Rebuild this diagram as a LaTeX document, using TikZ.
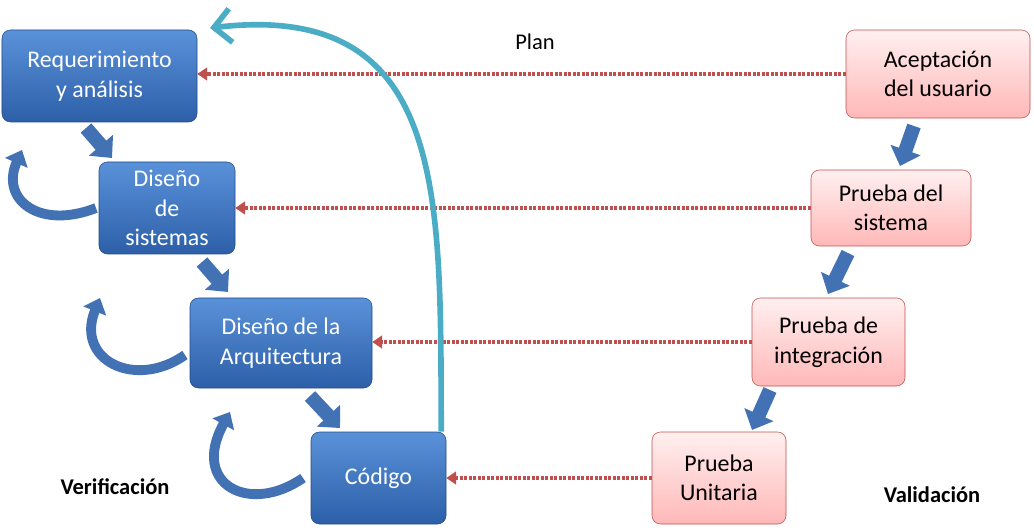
\documentclass[tikz,border=0pt]{standalone}
\usepackage{fontspec}
\setmainfont{Carlito}
\usetikzlibrary{arrows.meta,shapes.arrows}
\definecolor{btop}{HTML}{5A92DA}
\definecolor{bbot}{HTML}{2C5FA8}
\definecolor{barr}{HTML}{4372B4}
\definecolor{teal2}{HTML}{4BACC6}
\definecolor{redd}{HTML}{C0504D}
\begin{document}
\begin{tikzpicture}[x=0.025cm,y=-0.025cm,
 bbox/.style={draw=bbot!80!black,rounded corners=6pt,top color=btop,bottom color=bbot,text=white,font=\fontsize{17}{21}\selectfont,align=center,inner sep=0pt},
 pbox/.style={draw=redd,rounded corners=6pt,top color=red!6,bottom color=red!28,text=black,font=\fontsize{17}{21}\selectfont,align=center,inner sep=0pt},
 dots/.style={densely dotted,line width=2.2pt,draw=redd,-{Triangle[length=7pt,width=9pt]}},
 blk/.style={line width=10pt,draw=barr,-{Triangle[length=12pt,width=22pt]}},
 crv/.style={line width=7pt,draw=barr,-{Triangle[length=10pt,width=17pt]}}]
\useasboundingbox (0,0) rectangle (1034,531);
\node[bbox,minimum width=195*0.025cm,minimum height=92*0.025cm] (r) at (99.5,76) {Requerimiento\\y análisis};
\node[bbox,minimum width=136*0.025cm,minimum height=92*0.025cm] (s) at (167,208) {Diseño\\de\\sistemas};
\node[bbox,minimum width=182*0.025cm,minimum height=90*0.025cm] (a) at (281,343) {Diseño de la\\Arquitectura};
\node[bbox,minimum width=135*0.025cm,minimum height=92*0.025cm] (c) at (378.5,478) {Código};
\node[pbox,minimum width=184*0.025cm,minimum height=88*0.025cm] (ac) at (938,74) {Aceptación\\del usuario};
\node[pbox,minimum width=160*0.025cm,minimum height=76*0.025cm] (ps) at (891,208) {Prueba del\\sistema};
\node[pbox,minimum width=153*0.025cm,minimum height=88*0.025cm] (pi) at (828.5,342) {Prueba de\\integración};
\node[pbox,minimum width=134*0.025cm,minimum height=92*0.025cm] (pu) at (719,478) {Prueba\\Unitaria};
\draw[dots] (ac.west) -- (r.east|-ac.west);
\draw[dots] (ps.west) -- (s.east|-ps.west);
\draw[dots] (pi.west) -- (a.east|-pi.west);
\draw[dots] (pu.west) -- (c.east|-pu.west);
\node[font=\fontsize{16}{19}\selectfont] (plan) at (535,42) {Plan};
\node[font=\bfseries\fontsize{16}{19}\selectfont] (ver) at (115,487) {Verificación};
\node[font=\bfseries\fontsize{16}{19}\selectfont] (val) at (932,495) {Validación};
% block arrows
\draw[blk] (86,128) -- (112,158);
\draw[blk] (202,262) -- (228,292);
\draw[blk] (310,396) -- (340,428);
\draw[blk] (914,126) -- (900,166);
\draw[blk] (848,253) -- (828,294);
\draw[blk] (770,390) -- (752,430);
% curved arrows
\draw[crv] (96,208) .. controls (40,230) and (0,200) .. (22,150);
\draw[crv] (185,355) .. controls (135,390) and (75,360) .. (100,298);
\draw[crv] (303,478) .. controls (250,515) and (190,485) .. (230,412);
% teal curve
\draw[line width=4pt,draw=teal2,-{Straight Barb[length=12pt,width=24pt]}] (c.north east)++(-5,0) .. controls (440,200) and (450,0) .. (210,28);
\end{tikzpicture}
\end{document}
